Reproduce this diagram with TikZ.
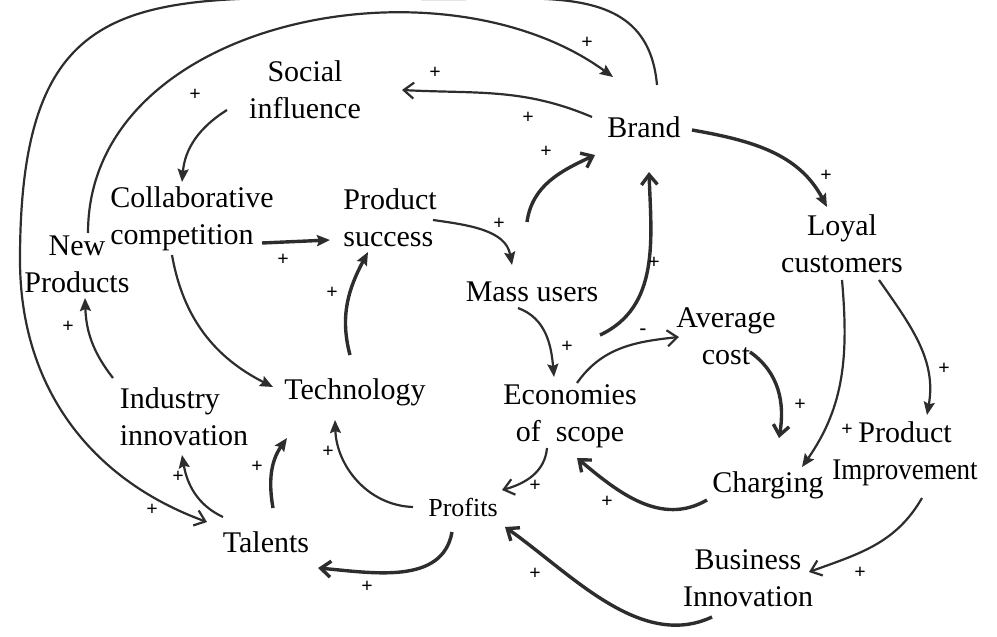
\documentclass[tikz,border=0pt]{standalone}
\usepackage{fontspec}
\setmainfont{Liberation Serif}
\usepackage{graphicx}
\usetikzlibrary{arrows.meta}
\definecolor{ink}{RGB}{45,45,45}

\begin{document}
\begin{tikzpicture}[x=0.5pt, y=0.5pt,
            factor/.style = {inner sep=0pt, align=center,
            font=\fontsize{15}{18.5}\selectfont},
            sign/.style = {inner sep=0pt, font=\fontsize{10}{10}\selectfont\bfseries},
            link/.style = {draw=ink, line width=1.1pt,
            -{Stealth[length=6.5pt,width=5.5pt,inset=1pt]}},
            bold/.style = {line width=1.7pt},
            barb/.style = {-{Straight Barb[length=5pt,width=8pt]}}]
        \useasboundingbox (0,0) rectangle (997,-637);

        % Factors
        \node[factor] (social) at (305,-90) {Social\\influence};
        \node[factor] (brand) at (644,-127) {Brand};
        \node[factor, align=left] (collab) at (192,-219) {Collaborative\\competition};
        \node[factor, align=left] (success) at (390,-218) {Product\\success};
        \node[factor] (newprod) at (77,-264) {New\\Products};
        \node[factor] (loyal) at (842,-244) {Loyal\\customers};
        \node[factor] (mass) at (532,-292) {Mass users};
        \node[factor] (avg) at (726,-336) {Average\\cost};
        \node[factor] (tech) at (355,-392) {Technology};
        \node[factor, align=left] (industry) at (184,-417) {Industry\\innovation};
        \node[factor] (econ) at (570,-416) {Economies\\of~ scope};
        \node[factor] (improve) at (905,-454) {Product\\\scalebox{0.9}[1]{Improvement}};
        \node[factor] (charging) at (768,-485) {Charging};
        \node[factor, font=\fontsize{13}{15}\selectfont] (profits) at (463,-507) {Profits};
        \node[factor] (talents) at (266,-542) {Talents};
        \node[factor] (business) at (748,-578) {Business\\Innovation};

        % Outer loop
        \coordinate (loopTop) at (450,1);
        \coordinate (loopLeft) at (20,-260);
        \draw[link, barb] ([shift={(13,42)}]brand.center) to[out=95,in=0,looseness=1.15] (loopTop)
            to[out=180,in=90,looseness=1.5] (loopLeft)
            to[out=-90,in=160] ([shift={(-59,20)}]talents.center);

        % Upper links
        \draw[link] ([shift={(11,31)}]newprod.center) to[out=90,in=144] ([shift={(-31,50)}]brand.center);
        \draw[link, barb] ([shift={(-52,10)}]brand.center) to[out=157,in=-3] ([shift={(97,0)}]social.center);
        \draw[link] ([shift={(-78,-20)}]social.center) to[out=212,in=85] ([shift={(-10,37)}]collab.center);
        \draw[link, bold] ([shift={(70,-24)}]collab.center) -- ([shift={(-60,-22)}]success.center);
        \draw[link] ([shift={(43,-2)}]success.center) to[out=-8,in=100] ([shift={(-20,27)}]mass.center);
        \draw[link, bold, barb] ([shift={(-5,70)}]mass.center) to[out=82,in=205] ([shift={(-49,-28)}]brand.center);
        \draw[link, bold, barb] ([shift={(30,81)}]econ.center) to[out=25,in=-88] ([shift={(5,-45)}]brand.center);
        \draw[link, bold] ([shift={(48,-3)}]brand.center) to[out=-10,in=118] ([shift={(-15,37)}]loyal.center);

        % Middle links
        \draw[link] ([shift={(-20,-36)}]collab.center) to[out=-80,in=153] ([shift={(-82,5)}]tech.center);
        \draw[link, bold] ([shift={(-5,37)}]tech.center) to[out=105,in=-118] ([shift={(-22,-34)}]success.center);
        \draw[link] ([shift={(-71,39)}]industry.center) to[out=128,in=-88] ([shift={(8,-34)}]newprod.center);
        \draw[link] ([shift={(-14,-16)}]mass.center) to[out=-20,in=95] ([shift={(-16,39)}]econ.center);
        \draw[link, barb] ([shift={(7,33)}]econ.center) to[out=55,in=186] ([shift={(-47,-1)}]avg.center);
        \draw[link, bold, barb] ([shift={(24,-16)}]avg.center) to[out=-35,in=80] ([shift={(11,47)}]charging.center);
        \draw[link] ([shift={(0,-36)}]loyal.center) to[out=-85,in=55] ([shift={(34,18)}]charging.center);
        \draw[link] ([shift={(37,-36)}]loyal.center) to[out=-55,in=80] ([shift={(22,39)}]improve.center);

        % Lower links
        \draw[link, bold, barb] ([shift={(-61,-15)}]charging.center) to[out=210,in=-40] ([shift={(7,-42)}]econ.center);
        \draw[link, barb] ([shift={(-23,-32)}]econ.center) to[out=-95,in=15] ([shift={(39,17)}]profits.center);
        \draw[link, barb] ([shift={(17,-44)}]improve.center) to[out=-120,in=20] ([shift={(61,6)}]business.center);
        \draw[link, bold, barb] ([shift={(-36,-39)}]business.center) to[out=-155,in=-35,looseness=0.9] ([shift={(42,-20)}]profits.center);
        \draw[link] ([shift={(-50,0)}]profits.center) to[out=178,in=-88] ([shift={(-20,-28)}]tech.center);
        \draw[link, bold, barb] ([shift={(-11,-25)}]profits.center) to[out=-100,in=-5] ([shift={(52,-26)}]talents.center);
        \draw[link] ([shift={(-43,25)}]talents.center) to[out=155,in=-80] ([shift={(-2,-38)}]industry.center);
        \draw[link, bold] ([shift={(7,34)}]talents.center) to[out=100,in=-125] ([shift={(-68,-46)}]tech.center);

        % Polarity signs
        \foreach \x/\y [count=\i] in {587/43, 435/73, 528/118, 546/152, 195/95, 499/224,
            283/260, 332/293, 68/327, 654/263, 826/176, 567/347, 800/405, 847/430,
            944/369, 607/502, 535/486, 860/573, 535/574, 328/452, 367/587, 178/477,
            257/467, 152/510}
            \node[sign] (plus\i) at (\x,-\y) {+};
        \node[sign] (minus) at (643,-332) {-};
    \end{tikzpicture}
\end{document}
